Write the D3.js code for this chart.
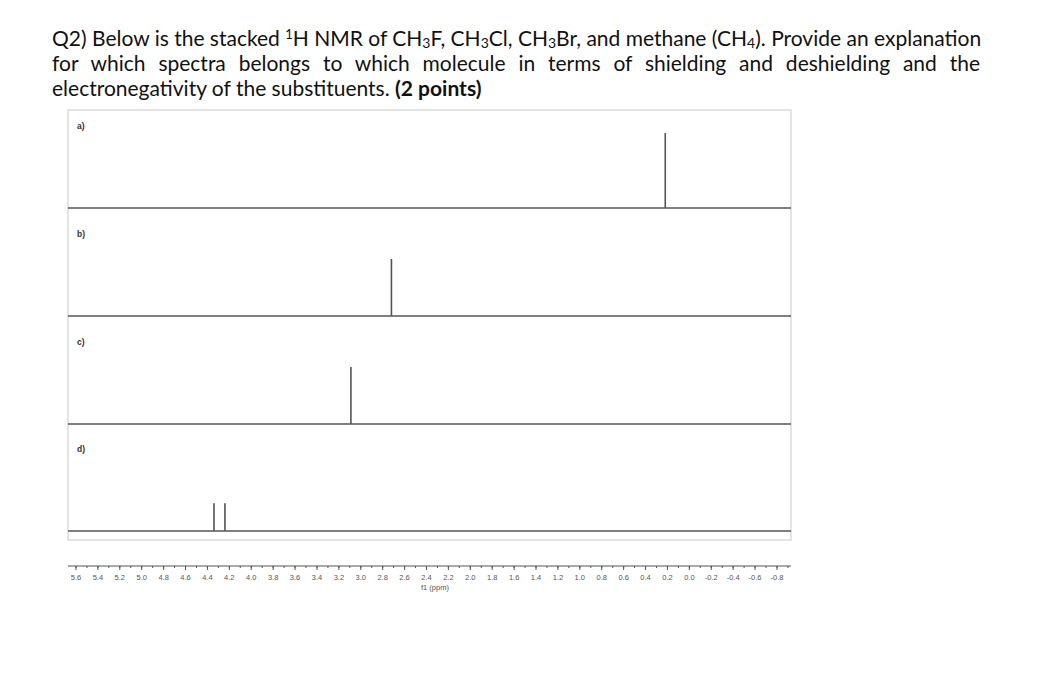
<!DOCTYPE html>
<html><head><meta charset="utf-8">
<script src="https://cdn.jsdelivr.net/npm/d3@7"></script>
<style>body{margin:0;background:#fff}svg{display:block}</style>
</head><body>
<svg id="c" width="1050" height="678"></svg>
<script>
// ---- data ----
const panelLabels = ["a)", "b)", "c)", "d)"];
const peakShifts = [[0.22], [2.72], [3.09], [4.34, 4.24]];   // ppm
const peakIntensity = [100, 76, 76, 37];                       // relative height
const tickValues = [5.6,5.4,5.2,5.0,4.8,4.6,4.4,4.2,4.0,3.8,3.6,3.4,3.2,3.0,2.8,2.6,2.4,2.2,2.0,1.8,1.6,1.4,1.2,1.0,0.8,0.6,0.4,0.2,0.0,-0.2,-0.4,-0.6,-0.8];
const minorTicks = d3.range(56, -10, -1).map(v => v / 10);
const axisTitle = "f1 (ppm)";
const titleLines = [
  [["Q2) Below is the stacked ",""],["1","sup"],["H NMR of CH",""],["3","sub"],["F, CH",""],["3","sub"],["Cl, CH",""],["3","sub"],["Br, and methane (CH",""],["4","sub"],["). Provide an explanation",""]],
  [["for which spectra belongs to which molecule in terms of shielding and deshielding and the",""]],
  [["electronegativity of the substituents. ",""],["(2 points)","bold"]]
];

const svg = d3.select("#c");
const frame = {x0: 68, x1: 791, y0: 110, y1: 540};
const x = d3.scaleLinear().domain([5.673, -0.928]).range([frame.x0, frame.x1]);

// ---- title ----
const font = "Lato, 'Open Sans', sans-serif";
titleLines.forEach((parts, i) => {
  const t = svg.append("text").attr("x", 52).attr("y", 46 + i * 25)
    .attr("font-family", font).attr("font-size", 21).attr("fill", "#111");
  let cur = 0;
  parts.forEach(([s, k]) => {
    const off = k === "sub" ? 2 : (k === "sup" ? -7 : 0);
    const ts = t.append("tspan").attr("dy", off - cur).text(s);
    cur = off;
    if (k === "sub") ts.attr("font-size", 14);
    if (k === "sup") ts.attr("font-size", 13);
    if (k === "bold") ts.attr("font-weight", "bold");
  });
  if (i < 2) {
    const target = 980 - 52;
    const w = t.node().getComputedTextLength();
    const full = parts.map(p => p[0]).join("");
    const spaces = (full.match(/ /g) || []).length;
    t.attr("word-spacing", Math.max(0, (target - w) / spaces));
  }
});

// ---- frame ----
svg.append("rect").attr("x", frame.x0).attr("y", frame.y0)
  .attr("width", frame.x1 - frame.x0).attr("height", frame.y1 - frame.y0)
  .attr("fill", "none").attr("stroke", "#dcdcdc").attr("stroke-width", 1.5);

// ---- spectra ----
const baselines = [208, 316, 424, 531];
const line = d3.line().x(d => x(d[0])).y(d => d[1]);
panelLabels.forEach((lab, i) => {
  const y = d3.scaleLinear().domain([0, 100]).range([baselines[i], baselines[i] - 75]);
  svg.append("text").attr("x", 77).attr("y", baselines[i] - 79)
    .attr("font-family", "Liberation Sans, Arial, sans-serif").attr("font-size", 8.5)
    .attr("font-weight", "bold").attr("fill", "#333").text(lab);
  const pts = [[x.domain()[0], y(0)]];
  peakShifts[i].slice().sort((a, b) => b - a).forEach(p => {
    pts.push([p, y(0)], [p, y(peakIntensity[i])], [p, y(0)]);
  });
  pts.push([x.domain()[1], y(0)]);
  svg.append("path").attr("d", line(pts)).attr("fill", "none")
    .attr("stroke", "#555").attr("stroke-width", 1.6);
});

// ---- axis ----
const ay = 566;
const axis = svg.append("g");
axis.append("line").attr("x1", frame.x0).attr("x2", frame.x1).attr("y1", ay).attr("y2", ay)
  .attr("stroke", "#555").attr("stroke-width", 1.2);
axis.selectAll(".mn").data(minorTicks).join("line")
  .attr("x1", d => x(d)).attr("x2", d => x(d)).attr("y1", ay).attr("y2", ay + 2)
  .attr("stroke", "#555").attr("stroke-width", 1);
axis.selectAll(".mj").data(tickValues).join("line")
  .attr("x1", d => x(d)).attr("x2", d => x(d)).attr("y1", ay).attr("y2", ay + 4)
  .attr("stroke", "#555").attr("stroke-width", 1);
axis.selectAll("text").data(tickValues).join("text")
  .attr("x", d => x(d)).attr("y", ay + 14).attr("text-anchor", "middle")
  .attr("font-family", "Liberation Sans, Arial, sans-serif").attr("font-size", 7.5)
  .attr("fill", "#555").text(d => d.toFixed(1));
svg.append("text").attr("x", 435).attr("y", ay + 24).attr("text-anchor", "middle")
  .attr("font-family", "Liberation Sans, Arial, sans-serif").attr("font-size", 7.5)
  .attr("fill", "#555").text(axisTitle);
</script>
</body></html>
